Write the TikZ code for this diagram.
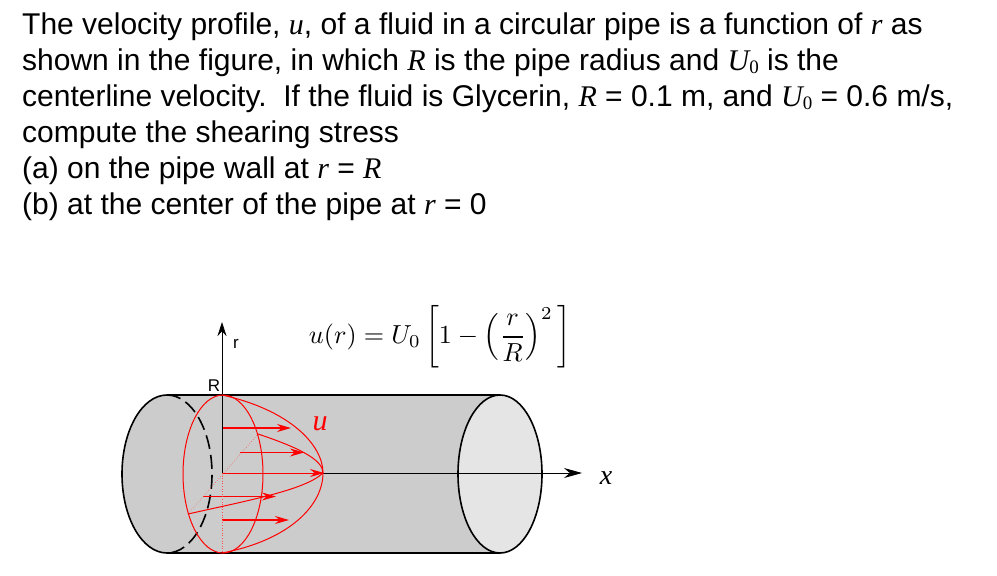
\documentclass[tikz,border=0pt]{standalone}
\usepackage{fontspec}
\setmainfont{Liberation Serif}
\setsansfont{Liberation Sans}
\usetikzlibrary{arrows.meta}
\newcommand{\vv}[1]{{\rmfamily\itshape #1}}
\newcommand{\Uz}{\vv{U}\raisebox{-0.25ex}{\rmfamily\fontsize{19}{19}\selectfont 0}}
\begin{document}
\begin{tikzpicture}[x=1pt,y=-1pt,
  txt/.style={anchor=base west,inner sep=0,font=\sffamily\fontsize{30}{30}\selectfont},
  pipe/.style={line width=1.6pt,black},
  redl/.style={color=red,line width=1pt},
  rarr/.style={color=red,line width=1.1pt,-{Stealth[length=14pt,width=8pt]}},
  dots/.style={color=red!70,dotted,line width=0.6pt}]
\useasboundingbox (0,0) rectangle (997,576);
\fill[white] (0,0) rectangle (997,576);
\node[txt] (l1) at (22,34) {The velocity profile, \vv{u}, of a fluid in a circular pipe is a function of \vv{r} as};
\node[txt] (l2) at (22,70) {shown in the figure, in which \vv{R} is the pipe radius and \Uz{} is the};
\node[txt] (l3) at (22,106) {centerline velocity.\ \ If the fluid is Glycerin, \vv{R} = 0.1 m, and \Uz{} = 0.6 m/s,};
\node[txt] (l4) at (22,142) {compute the shearing stress};
\node[txt] (l5) at (22,178) {(a) on the pipe wall at \vv{r} = \vv{R}};
\node[txt] (l6) at (22,214) {(b) at the center of the pipe at \vv{r} = 0};
% pipe
\fill[gray!40] (167,395) -- (500,395) -- (500,553) -- (167,553) arc[start angle=90,end angle=270,x radius=45,y radius=79];
\fill[gray!20] (500,474) ellipse[x radius=42,y radius=79];
\draw[pipe] (167,553) arc[start angle=90,end angle=270,x radius=45,y radius=79] -- (500,395);
\draw[pipe] (167,553) -- (500,553);
\draw[pipe,dash pattern=on 14pt off 6pt] (167,395) arc[start angle=-90,end angle=90,x radius=45,y radius=79];
\draw[pipe] (500,474) ellipse[x radius=42,y radius=79];
% red arrows
\draw[rarr] (240,452.5) -- (304,452.5);
\draw[rarr] (203,496.5) -- (276,496.5);
\draw[rarr] (222,428) -- (291,428);
\draw[rarr] (222,520) -- (289,520);
% axes
\coordinate (O) at (222,473);
\coordinate (rt) at (222,322);
\coordinate (xe) at (582,473);
\draw[line width=0.8pt,-{Stealth[length=14pt,width=9pt]}] (O) -- (rt);
\draw[line width=0.8pt,-{Stealth[length=18pt,width=10pt]}] (O) -- (xe);
\draw[rarr,line width=0.9pt] (222,473) -- (324,473);
\node[font=\sffamily\fontsize{17}{17}\selectfont] (rl) at (236,344) {r};
\node[font=\sffamily\fontsize{17}{17}\selectfont] (Rl) at (214,386) {R};
\node[font=\rmfamily\itshape\fontsize{28}{28}\selectfont] (xl) at (606,478) {x};
% red profile
\draw[dots] (222,473) -- (222,553);
\draw[dots] (188,514) -- (258,434);
\draw[redl] (223,474) ellipse[x radius=40,y radius=79];
\draw[redl] (222,395) .. controls (290,410) and (323,445) .. (323,473) .. controls (323,505) and (290,540) .. (222,553);
\draw[redl] (258,434) .. controls (300,448) and (323,460) .. (323,473) .. controls (305,490) and (250,500) .. (188,514);
\node[red,font=\rmfamily\itshape\fontsize{30}{30}\selectfont] (ul) at (320,424) {u};
\node[inner sep=0] (eq) at (440,337) {\resizebox{262pt}{!}{$\displaystyle u(r)=U_0\left[1-\left(\frac{r}{R}\right)^{2}\,\right]$}};
\end{tikzpicture}
\end{document}
